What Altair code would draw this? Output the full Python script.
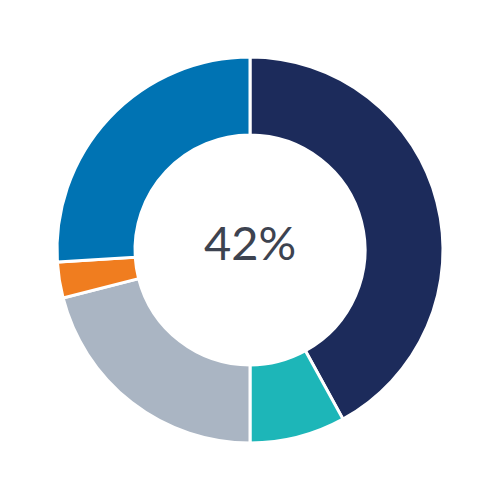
import altair as alt
import pandas as pd

categories = ["A", "B", "C", "D", "E"]
values = [42, 8, 21, 3, 26]
colors = ["#1c2b5b", "#1db6b8", "#aab5c3", "#f07d1f", "#0073b3"]
center_label = ["42%"]

df = pd.DataFrame({"category": categories, "value": values, "order": list(range(len(categories)))})

arcs = alt.Chart(df).mark_arc(outerRadius=193, innerRadius=115, stroke="white", strokeWidth=3).encode(
    theta=alt.Theta("value:Q", stack=True),
    color=alt.Color("category:N", scale=alt.Scale(domain=categories, range=colors), legend=None),
    order=alt.Order("order:Q"),
)

text = alt.Chart(pd.DataFrame({"t": center_label})).mark_text(
    font="Lato", fontSize=47, color="#3d4350", align="center", baseline="middle", dy=-4
).encode(text="t:N", x=alt.value(242), y=alt.value(242))

chart = alt.layer(arcs, text).properties(
    width=484, height=484, autosize=alt.AutoSizeParams(type="none"), padding=0
).configure_view(stroke=None)

chart.save("out.html", embed_options={"renderer": "svg", "actions": False})
